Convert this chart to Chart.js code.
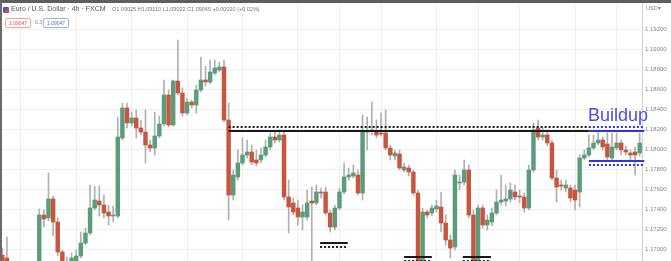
<!DOCTYPE html>
<html>
<head>
<meta charset="utf-8">
<script src="https://cdn.jsdelivr.net/npm/chart.js@4.4.0/dist/chart.umd.min.js"></script>
<style>
  body { margin: 0; background: #fff; font-family: "Liberation Sans", Arial, sans-serif; }
  #wrap { position: relative; width: 671px; height: 261px; overflow: hidden; background: #fff; }
  #chart { position: absolute; left: 0; top: 3px; }
  .topbar { position: absolute; left: 0; top: 0; width: 671px; height: 3px; background: #5e5e5e; }
  .leftbar { position: absolute; left: 0; top: 0; width: 2px; height: 261px; background: #6a6a6a; }
  .flag { position: absolute; left: 3px; top: 7px; width: 6px; height: 6px; border-radius: 1px;
          background: linear-gradient(135deg, #3a5bc7 50%, #c84a4a 50%); }
  .sym { position: absolute; left: 11px; top: 5px; font-size: 7px; color: #555; white-space: nowrap; }
  .ohlc { position: absolute; left: 112px; top: 6px; font-size: 5.5px; color: #777; white-space: nowrap; }
  .box { position: absolute; top: 18px; height: 8px; line-height: 8px; font-size: 5px; padding: 0 3px;
         border-radius: 2px; background: #fff; }
  .box.sell { left: 5px; border: 1px solid #e9a5a5; color: #d05050; }
  .box.buy { left: 43px; border: 1px solid #9bb5e4; color: #4a72c8; }
  .spread { position: absolute; left: 35px; top: 19px; font-size: 5px; color: #777; }
  .ccy { position: absolute; left: 646px; top: 5px; font-size: 5.5px; color: #888; }
  .buildup { position: absolute; left: 588px; top: 106px; font-size: 18px; line-height: 18px;
             color: #4b4be6; white-space: nowrap; }
</style>
</head>
<body>
<div id="wrap">
  <canvas id="chart" width="671" height="258"></canvas>
  <div class="topbar"></div>
  <div class="leftbar"></div>
  <span class="flag"></span>
  <span class="sym">Euro / U.S. Dollar · 4h · FXCM</span>
  <span class="ohlc">O1.09025 H1.09110 L1.09022 C1.09045 +0.00020 (+0.02%)</span>
  <div class="box sell">1.09047</div>
  <span class="spread">0.3</span>
  <div class="box buy">1.09047</div>
  <span class="ccy">USD▾</span>
  <div class="buildup">Buildup</div>
</div>
<script>
// candle values (4h bars)
const opens = [
  1.1694, 1.1691, 1.1674, 1.1664, 1.1669, 1.1654, 1.1664, 1.1674, 1.1687, 1.1734,
  1.1731, 1.1750, 1.1727, 1.1697, 1.1687, 1.1684, 1.1687, 1.1693, 1.1706, 1.1716,
  1.1741, 1.1748, 1.1744, 1.1737, 1.1733, 1.1733, 1.1811, 1.1841, 1.1826, 1.1831,
  1.1821, 1.1817, 1.1804, 1.1801, 1.1813, 1.1825, 1.1854, 1.1824, 1.1868, 1.1856,
  1.1836, 1.1847, 1.1844, 1.1859, 1.1869, 1.1867, 1.1876, 1.1879, 1.1882, 1.1829,
  1.1754, 1.1772, 1.1786, 1.1794, 1.1797, 1.1789, 1.1789, 1.1794, 1.1802, 1.1812,
  1.1809, 1.1814, 1.1752, 1.1746, 1.1741, 1.1732, 1.1732, 1.1748, 1.1746, 1.1757,
  1.1757, 1.1736, 1.1722, 1.1741, 1.1757, 1.1772, 1.1773, 1.1774, 1.1756, 1.1817,
  1.1818, 1.1817, 1.1816, 1.1816, 1.1801, 1.1793, 1.1795, 1.1779, 1.1781, 1.1777,
  1.1756, 1.1687, 1.1737, 1.1736, 1.1740, 1.1742, 1.1726, 1.1709, 1.1702, 1.1766,
  1.1767, 1.1779, 1.1734, 1.1687, 1.1741, 1.1724, 1.1727, 1.1736, 1.1747, 1.1748,
  1.1750, 1.1757, 1.1753, 1.1752, 1.1741, 1.1779, 1.1821, 1.1812, 1.1814, 1.1806,
  1.1771, 1.1764, 1.1761, 1.1761, 1.1759, 1.1757, 1.1791, 1.1794, 1.1801, 1.1806,
  1.1809, 1.1805, 1.1791, 1.1801, 1.1806, 1.1799, 1.1796, 1.1797, 1.1796
];
const highs = [
  1.1701, 1.1712, 1.1679, 1.1673, 1.1672, 1.1667, 1.1677, 1.1686, 1.1740, 1.1739,
  1.1776, 1.1753, 1.1731, 1.1699, 1.1692, 1.1696, 1.1699, 1.1717, 1.1721, 1.1764,
  1.1763, 1.1763, 1.1754, 1.1744, 1.1743, 1.1832, 1.1846, 1.1846, 1.1837, 1.1839,
  1.1829, 1.1839, 1.1809, 1.1837, 1.1833, 1.1869, 1.1859, 1.1869, 1.1909, 1.1861,
  1.1851, 1.1849, 1.1864, 1.1892, 1.1883, 1.1889, 1.1889, 1.1887, 1.1889, 1.1846,
  1.1779, 1.1799, 1.1811, 1.1809, 1.1804, 1.1799, 1.1801, 1.1809, 1.1816, 1.1817,
  1.1819, 1.1818, 1.1769, 1.1751, 1.1749, 1.1744, 1.1759, 1.1762, 1.1764, 1.1761,
  1.1762, 1.1739, 1.1744, 1.1761, 1.1786, 1.1781, 1.1784, 1.1779, 1.1834, 1.1832,
  1.1847, 1.1829, 1.1836, 1.1839, 1.1804, 1.1799, 1.1799, 1.1786, 1.1784, 1.1779,
  1.1759, 1.1741, 1.1739, 1.1744, 1.1749, 1.1757, 1.1734, 1.1714, 1.1779, 1.1774,
  1.1789, 1.1784, 1.1739, 1.1744, 1.1744, 1.1734, 1.1741, 1.1759, 1.1774, 1.1764,
  1.1766, 1.1764, 1.1759, 1.1756, 1.1784, 1.1826, 1.1829, 1.1821, 1.1819, 1.1809,
  1.1779, 1.1769, 1.1769, 1.1764, 1.1764, 1.1794, 1.1799, 1.1814, 1.1814, 1.1817,
  1.1812, 1.1816, 1.1816, 1.1816, 1.1809, 1.1803, 1.1799, 1.1802, 1.1816
];
const lows = [
  1.1674, 1.1669, 1.1659, 1.1660, 1.1649, 1.1651, 1.1661, 1.1671, 1.1683, 1.1722,
  1.1728, 1.1713, 1.1693, 1.1684, 1.1681, 1.1681, 1.1685, 1.1691, 1.1704, 1.1714,
  1.1739, 1.1733, 1.1731, 1.1724, 1.1727, 1.1731, 1.1809, 1.1821, 1.1823, 1.1811,
  1.1814, 1.1786, 1.1797, 1.1794, 1.1811, 1.1823, 1.1822, 1.1823, 1.1854, 1.1833,
  1.1834, 1.1841, 1.1836, 1.1857, 1.1863, 1.1865, 1.1874, 1.1877, 1.1827, 1.1729,
  1.1749, 1.1769, 1.1784, 1.1791, 1.1784, 1.1783, 1.1786, 1.1792, 1.1799, 1.1806,
  1.1807, 1.1749, 1.1716, 1.1734, 1.1724, 1.1719, 1.1729, 1.1687, 1.1744, 1.1751,
  1.1734, 1.1717, 1.1719, 1.1739, 1.1755, 1.1769, 1.1771, 1.1754, 1.1749, 1.1799,
  1.1814, 1.1811, 1.1813, 1.1799, 1.1789, 1.1789, 1.1779, 1.1777, 1.1773, 1.1754,
  1.1683, 1.1685, 1.1731, 1.1733, 1.1737, 1.1717, 1.1704, 1.1691, 1.1699, 1.1759,
  1.1764, 1.1731, 1.1683, 1.1684, 1.1721, 1.1719, 1.1723, 1.1734, 1.1744, 1.1743,
  1.1747, 1.1749, 1.1746, 1.1737, 1.1739, 1.1777, 1.1809, 1.1809, 1.1803, 1.1769,
  1.1747, 1.1759, 1.1757, 1.1747, 1.1739, 1.1742, 1.1789, 1.1792, 1.1799, 1.1804,
  1.1799, 1.1789, 1.1789, 1.1799, 1.1794, 1.1794, 1.1789, 1.1774, 1.1793
];
const closes = [
  1.1681, 1.1674, 1.1664, 1.1669, 1.1654, 1.1664, 1.1674, 1.1685, 1.1734, 1.1730,
  1.1750, 1.1727, 1.1697, 1.1687, 1.1684, 1.1691, 1.1693, 1.1706, 1.1716, 1.1741,
  1.1749, 1.1744, 1.1736, 1.1733, 1.1734, 1.1812, 1.1841, 1.1826, 1.1831, 1.1821,
  1.1817, 1.1804, 1.1801, 1.1813, 1.1825, 1.1854, 1.1824, 1.1868, 1.1856, 1.1836,
  1.1847, 1.1844, 1.1859, 1.1869, 1.1867, 1.1877, 1.1881, 1.1882, 1.1829, 1.1754,
  1.1774, 1.1786, 1.1794, 1.1797, 1.1787, 1.1786, 1.1794, 1.1802, 1.1812, 1.1809,
  1.1814, 1.1752, 1.1742, 1.1737, 1.1732, 1.1737, 1.1746, 1.1746, 1.1757, 1.1756,
  1.1736, 1.1722, 1.1741, 1.1757, 1.1772, 1.1774, 1.1776, 1.1756, 1.1817, 1.1818,
  1.1819, 1.1814, 1.1815, 1.1801, 1.1794, 1.1796, 1.1781, 1.1782, 1.1777, 1.1756,
  1.1687, 1.1737, 1.1734, 1.1741, 1.1743, 1.1726, 1.1709, 1.1701, 1.1774, 1.1767,
  1.1779, 1.1734, 1.1687, 1.1741, 1.1724, 1.1729, 1.1736, 1.1747, 1.1749, 1.1750,
  1.1759, 1.1752, 1.1752, 1.1741, 1.1779, 1.1819, 1.1812, 1.1814, 1.1806, 1.1771,
  1.1762, 1.1763, 1.1764, 1.1751, 1.1749, 1.1791, 1.1794, 1.1801, 1.1806, 1.1809,
  1.1802, 1.1792, 1.1802, 1.1806, 1.1799, 1.1797, 1.1794, 1.1794, 1.1806
];

// price axis labels
const yTicks = [1.170, 1.172, 1.174, 1.176, 1.178, 1.180, 1.182, 1.184, 1.186, 1.188, 1.190, 1.192];
// candles that carry a vertical grid line
const gridCandles = [4, 16, 28, 40, 52, 64, 73, 82, 94, 103, 112, 124, 133];

// drawn levels (price, first candle, last candle)
const resistance = [1.1818, 49, 127];
const buildupTop = [1.1818, 127, 139];
const buildupBottom = [1.17885, 127, 139];
const supportPrices = [1.1706, 1.1692, 1.1692];
const supportFrom = [68.8, 87, 99.7];
const supportTo = [74.8, 93, 105.8];

const UP = '#5b9c7b';
const DOWN = '#c8563f';

const labels = opens.map((o, i) => String(i));

// draws a solid line with its dotted twin next to it
const levelsPlugin = {
  id: 'levels',
  afterDatasetsDraw(chart) {
    const ctx = chart.ctx;
    const xs = chart.scales.x;
    const ys = chart.scales.y;

    function pair(level, color, side) {
      const x1 = xs.getPixelForValue(level[1]);
      const x2 = xs.getPixelForValue(level[2]);
      const py = Math.round(ys.getPixelForValue(level[0]));
      ctx.save();
      ctx.strokeStyle = color;
      ctx.lineWidth = 2;
      ctx.beginPath();
      ctx.moveTo(x1, py);
      ctx.lineTo(x2, py);
      ctx.stroke();
      ctx.setLineDash([2, 2]);
      ctx.beginPath();
      ctx.moveTo(x1, py + side * 4);
      ctx.lineTo(x2, py + side * 4);
      ctx.stroke();
      ctx.restore();
    }

    pair(resistance, '#1a1a1a', -1);
    pair(buildupTop, '#3333e0', -1);
    pair(buildupBottom, '#3333e0', 1);
    supportPrices.forEach(function (p, i) {
      pair([p, supportFrom[i], supportTo[i]], '#1a1a1a', 1);
    });
  }
};

new Chart(document.getElementById('chart'), {
  type: 'bar',
  data: {
    labels: labels,
    datasets: [
      {
        // wicks
        data: lows.map((l, i) => [l, highs[i]]),
        backgroundColor: '#b0b0b0',
        barThickness: 1,
        grouped: false,
        order: 1
      },
      {
        // bodies
        data: opens.map((o, i) => [o, closes[i]]),
        backgroundColor: opens.map((o, i) => closes[i] >= o ? UP : DOWN),
        barThickness: 3.8,
        minBarLength: 1,
        grouped: false,
        order: 0
      }
    ]
  },
  options: {
    responsive: false,
    animation: false,
    layout: { padding: 0 },
    plugins: { legend: { display: false }, tooltip: { enabled: false } },
    scales: {
      x: {
        offset: true,
        ticks: { display: false },
        border: { display: false },
        grid: {
          offset: false,
          drawTicks: false,
          color: (c) => gridCandles.includes(c.index) ? '#efefef' : 'rgba(0,0,0,0)'
        }
      },
      y: {
        position: 'right',
        min: 1.1688,
        max: 1.1946,
        afterBuildTicks: (s) => { s.ticks = yTicks.map(v => ({ value: v })); },
        afterFit: (s) => { s.width = 29; s.paddingTop = 0; s.paddingBottom = 0; },
        ticks: {
          padding: 3,
          color: '#888',
          font: { family: 'Liberation Sans', size: 6 },
          callback: (v) => Number(v).toFixed(5)
        },
        border: { color: '#cfcfcf' },
        grid: { drawTicks: false, color: '#efefef' }
      }
    }
  },
  plugins: [levelsPlugin]
});
</script>
</body>
</html>
